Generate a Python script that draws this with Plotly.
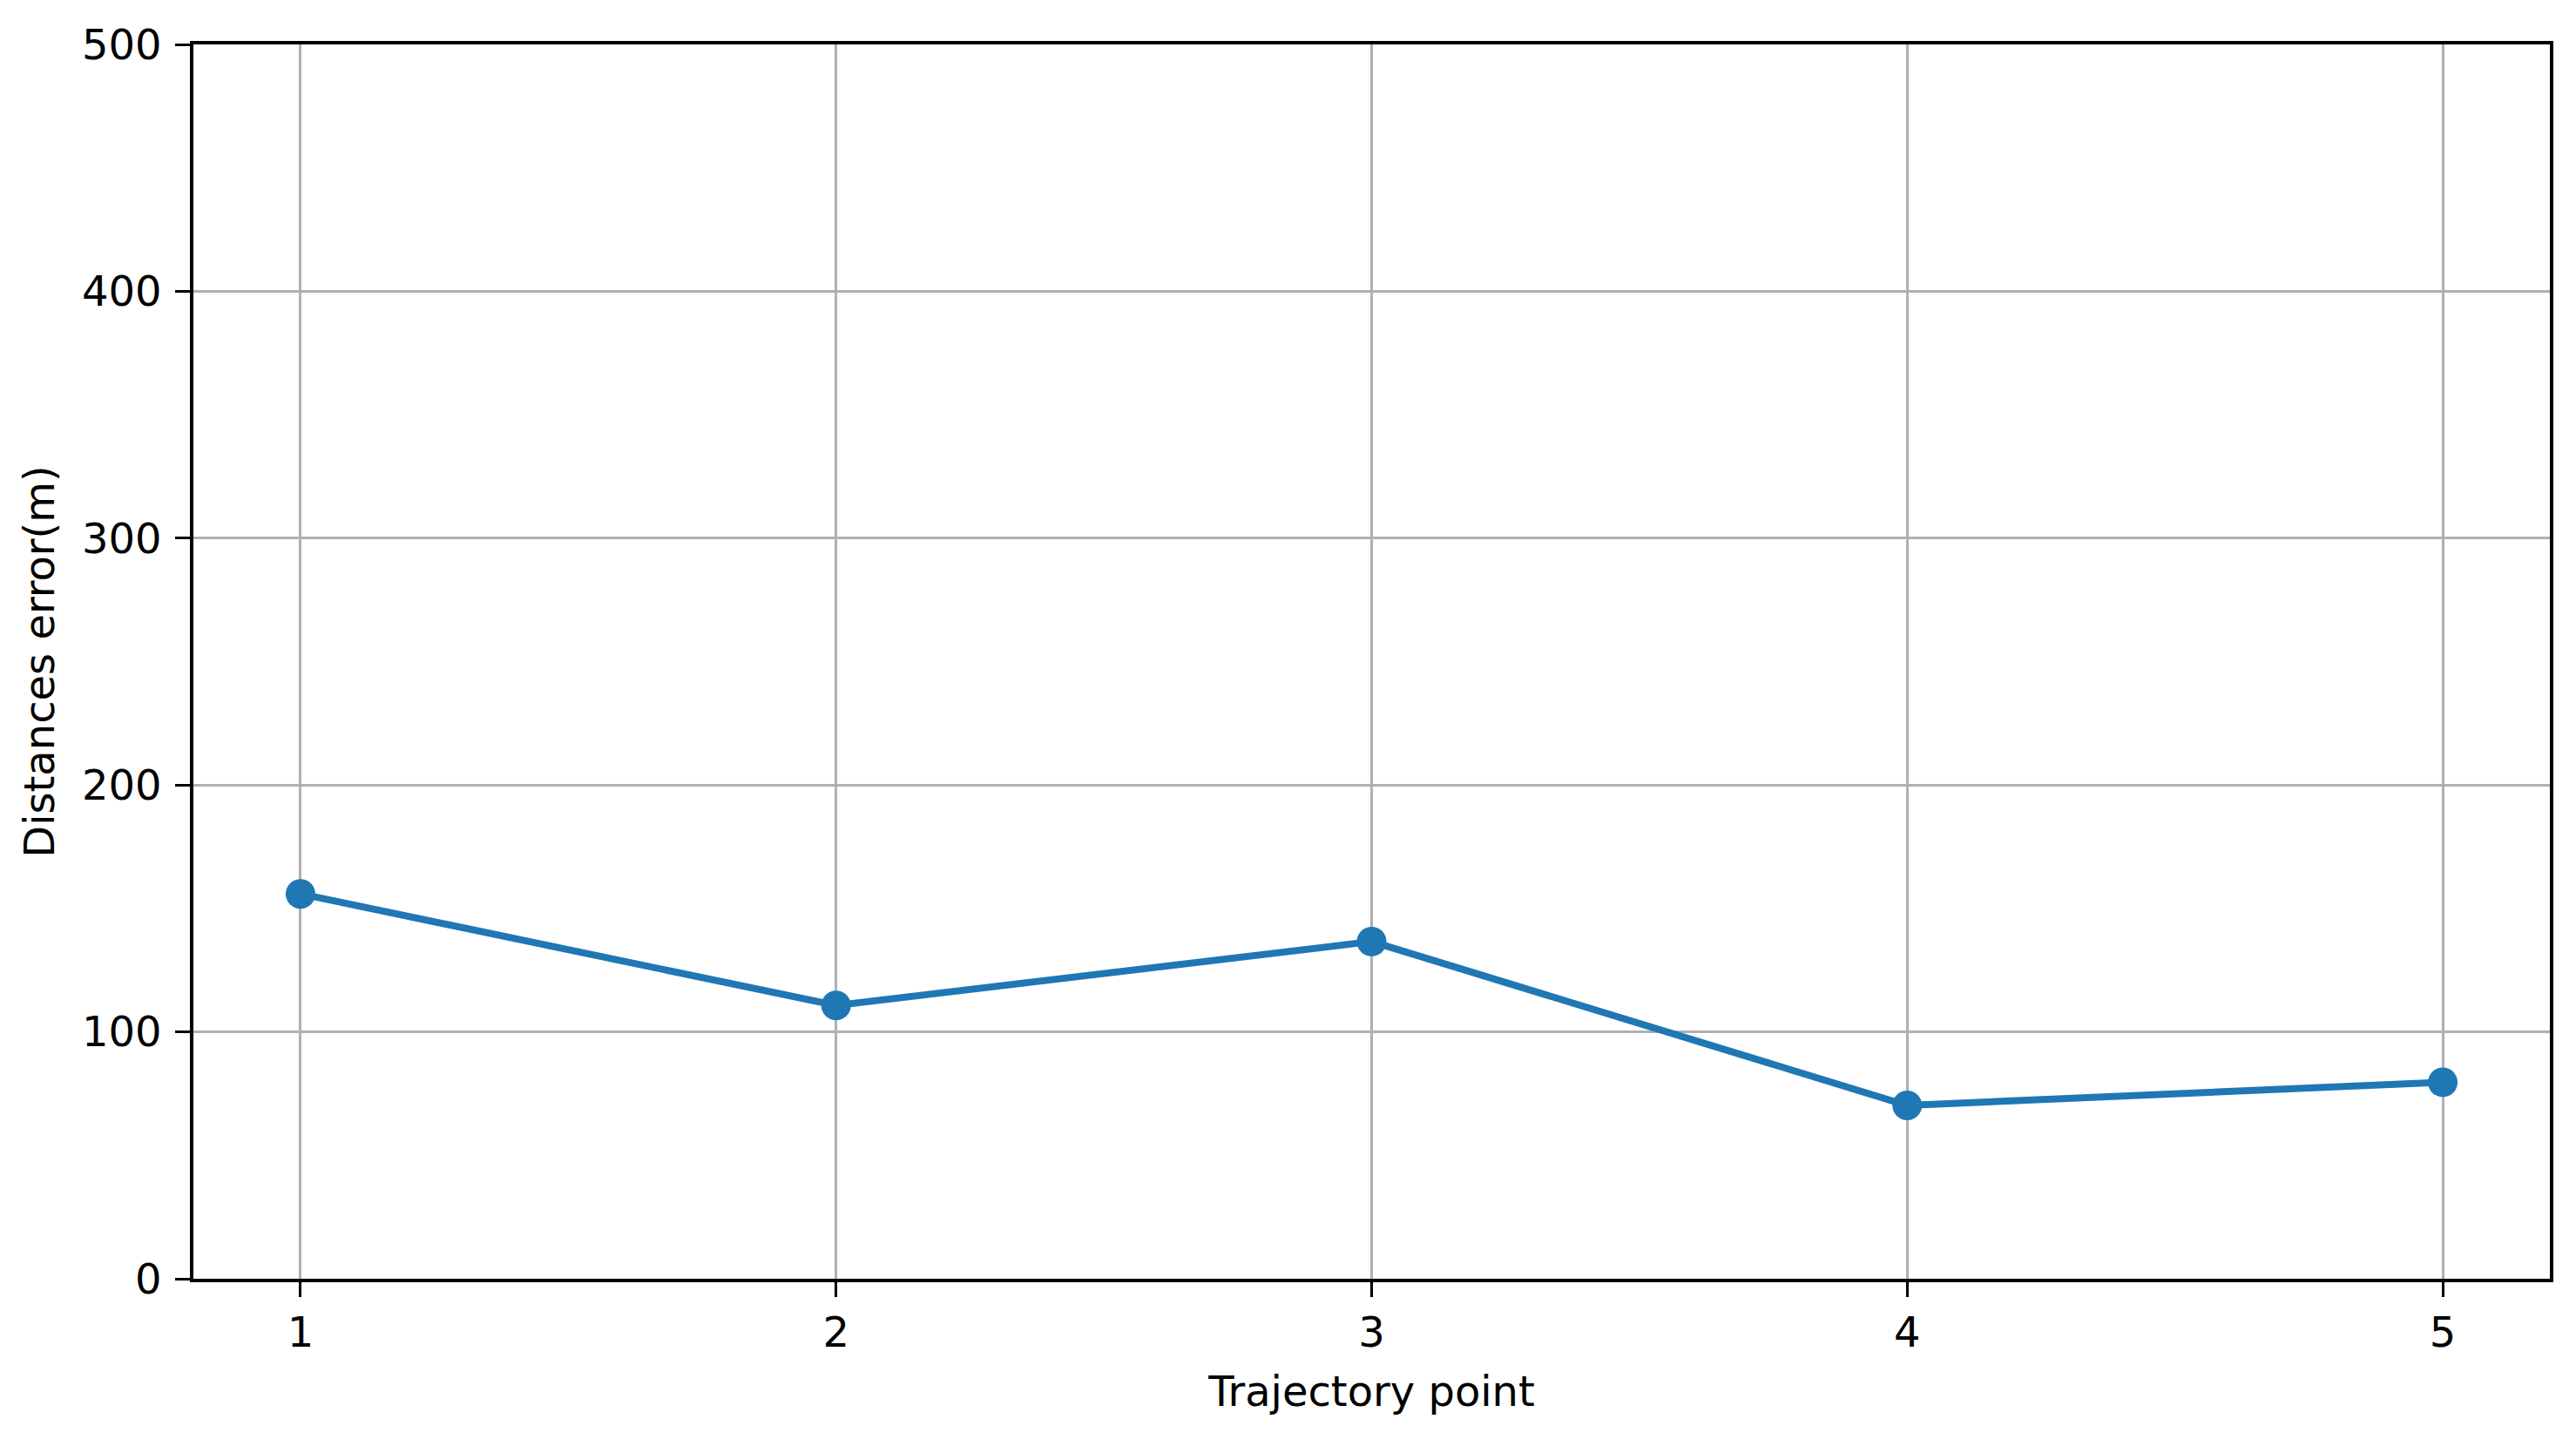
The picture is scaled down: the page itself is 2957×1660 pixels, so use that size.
import plotly.graph_objects as go

points = [1, 2, 3, 4, 5]
errors = [155.9, 110.7, 136.6, 70.2, 79.6]
x_ticks = [1, 2, 3, 4, 5]
y_ticks = [0, 100, 200, 300, 400, 500]

FONT = "DejaVu Sans"

fig = go.Figure()
fig.add_trace(go.Scatter(
    x=points, y=errors, mode="lines+markers",
    line=dict(color="#1f77b4", width=8),
    marker=dict(color="#1f77b4", size=34),
    showlegend=False,
))

axis_common = dict(
    showline=True, linecolor="black", linewidth=3.5, mirror=True,
    ticks="outside", ticklen=17, tickwidth=3.3, tickcolor="black",
    showgrid=True, gridcolor="#b0b0b0", gridwidth=3,
    zeroline=False,
    tickfont=dict(family=FONT, size=48, color="black"),
    title_font=dict(family=FONT, size=48, color="black"),
)

fig.update_layout(
    width=2957, height=1660,
    margin=dict(l=214, r=38, t=43, b=200),
    plot_bgcolor="white", paper_bgcolor="white",
    font=dict(family=FONT, size=48, color="black"),
    xaxis=dict(range=[0.8, 5.2], tickvals=x_ticks,
               title=dict(text="Trajectory point", standoff=25), **axis_common),
    yaxis=dict(range=[0, 500], tickvals=y_ticks, ticklabelstandoff=6,
               title=dict(text="Distances error(m)", standoff=17), **axis_common),
)

fig.write_html("out.html")
